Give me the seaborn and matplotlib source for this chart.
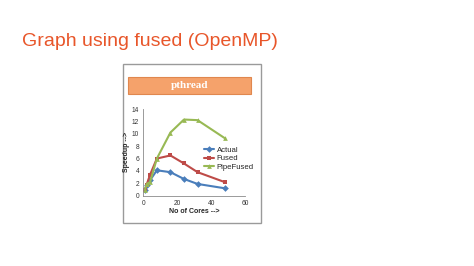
import matplotlib
matplotlib.use("Agg")
import matplotlib.pyplot as plt
import seaborn as sns
import pandas as pd
from matplotlib.patches import Rectangle

cores = [1, 2, 4, 8, 16, 24, 32, 48]
actual = [1.0, 1.7, 2.5, 4.1, 3.8, 2.7, 1.9, 1.2]
fused = [1.0, 1.8, 3.4, 6.0, 6.5, 5.2, 3.8, 2.2]
pipefused = [1.0, 1.9, 2.2, 6.0, 10.2, 12.3, 12.2, 9.3]
series_names = ["Actual", "Fused", "PipeFused"]

slide_title = "Graph using fused (OpenMP)"
panel_title = "pthread"
x_label = "No of Cores -->"
y_label = "Speedup -->"
x_ticks = [0, 20, 40, 60]
y_ticks = [0, 2, 4, 6, 8, 10, 12, 14]

df = pd.DataFrame({
    "cores": cores * 3,
    "speedup": actual + fused + pipefused,
    "series": sum([[n] * len(cores) for n in series_names], []),
})

sns.set_theme(style="white")
plt.rcParams["font.family"] = ["Liberation Sans", "DejaVu Sans"]

fig = plt.figure(figsize=(4.74, 2.66), dpi=100)
fig.patch.set_facecolor("white")

W, H = 474.0, 266.0
# slide title
fig.text(22 / W, 1 - 41 / H, slide_title, color="#e8562a", fontsize=14.0,
         va="center", ha="left")

# panel box
fig.add_artist(Rectangle((123 / W, 1 - 223 / H), (261 - 123) / W, (223 - 64) / H,
                         transform=fig.transFigure, facecolor="white",
                         edgecolor="#9a9a9a", linewidth=1.0, zorder=-2))
# orange banner
fig.add_artist(Rectangle((128 / W, 1 - 94 / H), (251 - 128) / W, (94 - 77) / H,
                         transform=fig.transFigure, facecolor="#f5a26b",
                         edgecolor="#e0874e", linewidth=0.8, zorder=-1))
fig.text((128 + 251) / 2 / W, 1 - 85.5 / H, panel_title, color="white",
         fontsize=8, fontweight="bold", family=["Liberation Serif", "DejaVu Serif"],
         ha="center", va="center")

ax = fig.add_axes([143.3 / W, 1 - 195.7 / H, (245 - 143.3) / W, (195.7 - 109) / H])
ax.set_zorder(1)
palette = {"Actual": "#4a7ebb", "Fused": "#be4b48", "PipeFused": "#98b954"}
markers = {"Actual": "D", "Fused": "s", "PipeFused": "^"}
sns.lineplot(data=df, x="cores", y="speedup", hue="series", style="series",
             palette=palette, markers=markers, dashes=False, linewidth=1.5,
             markersize=3.4, markeredgewidth=0, ax=ax)

ax.set_xlim(0, 60)
ax.set_ylim(0, 14)
ax.set_xticks(x_ticks)
ax.set_yticks(y_ticks)
ax.tick_params(labelsize=4.8, length=1.5, pad=1.5, colors="#333333")
ax.set_xlabel(x_label, fontsize=5, fontweight="bold", labelpad=0.5)
ax.set_ylabel(y_label, fontsize=5, fontweight="bold", labelpad=1.5)
for s in ["top", "right"]:
    ax.spines[s].set_visible(False)
for s in ["left", "bottom"]:
    ax.spines[s].set_color("#8a8a8a")
    ax.spines[s].set_linewidth(0.6)
ax.patch.set_alpha(0)

leg = ax.legend(loc="upper left", bbox_to_anchor=(0.6, 0.57), fontsize=5.6,
                frameon=False, handlelength=1.3, handletextpad=0.3,
                labelspacing=0.15, borderaxespad=0, borderpad=0)

fig.savefig("out.png", dpi=100)
